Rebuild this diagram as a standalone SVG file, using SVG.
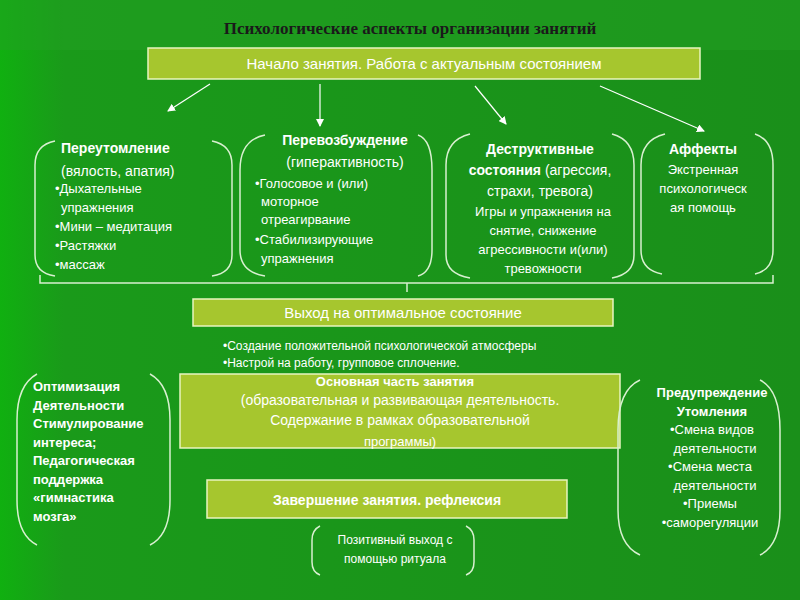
<svg xmlns="http://www.w3.org/2000/svg" width="800" height="600" viewBox="0 0 800 600">
<defs>
<linearGradient id="bg" x1="0" y1="0" x2="1" y2="0">
<stop offset="0" stop-color="#10b010"/><stop offset="0.08" stop-color="#1a9a1a"/><stop offset="1" stop-color="#1a8f1a"/>
</linearGradient>
<marker id="ar" markerWidth="8" markerHeight="8" refX="7" refY="4" orient="auto" markerUnits="userSpaceOnUse"><path d="M0,0 L8,4 L0,8 z" fill="#fff"/></marker>
<style>
.box{fill:#a6c62e;stroke:#e8f5c0;stroke-width:1.5}
.br{fill:none;stroke:#d8f0d0;stroke-width:1.5}
.w{fill:#fff;font-family:"Liberation Sans",Arial,sans-serif}
.b{font-weight:bold}
.c{stroke:#fff;stroke-width:1.2;fill:none}
</style>
</defs>
<rect width="800" height="600" fill="url(#bg)"/>
<rect x="0" y="0" width="800" height="50" fill="#22a022" opacity="0.5"/>
<text x="410" y="34" text-anchor="middle" font-family="'Liberation Serif',serif" font-weight="bold" font-size="17" fill="#1a1a1a">Психологические аспекты организации занятий</text>
<g id="start"><rect class="box" x="148" y="48" width="552" height="31"/>
<text class="w" x="424" y="69" text-anchor="middle" font-size="15">Начало занятия. Работа с актуальным состоянием</text></g>
<g id="connectors">
<line class="c" x1="210" y1="84" x2="168" y2="111" marker-end="url(#ar)"/>
<line class="c" x1="320" y1="84" x2="320" y2="126" marker-end="url(#ar)"/>
<line class="c" x1="475" y1="86" x2="506" y2="124" marker-end="url(#ar)"/>
<line class="c" x1="600" y1="86" x2="704" y2="131" marker-end="url(#ar)"/>
<path class="br" d="M40,275 V283 H773 V275 M407,283 V292"/>
</g>
<g id="n1">
<path class="br" d="M55,141 Q35,145 35,165 V255 Q35,273 55,276 M212,141 Q232,145 232,165 V255 Q232,273 212,276"/>
<text class="w b" x="61" y="153" font-size="14">Переутомление</text>
<text class="w" x="61" y="176" font-size="14">(вялость, апатия)</text>
<g font-size="13"><text class="w" x="55" y="193">•Дыхательные</text><text class="w" x="61" y="212">упражнения</text>
<text class="w" x="55" y="231">•Мини – медитация</text><text class="w" x="55" y="250">•Растяжки</text><text class="w" x="55" y="269">•массаж</text></g>
</g>
<g id="n2">
<path class="br" d="M265,135 Q240,140 240,170 V250 Q240,272 265,276 M418,135 Q432,140 432,170 V250 Q432,272 418,276"/>
<text class="w b" x="345" y="145" text-anchor="middle" font-size="14">Перевозбуждение</text>
<text class="w" x="345" y="167" text-anchor="middle" font-size="14">(гиперактивность)</text>
<g font-size="13"><text class="w" x="255" y="188">•Голосовое и (или)</text><text class="w" x="261" y="206">моторное</text>
<text class="w" x="261" y="224">отреагирвание</text><text class="w" x="255" y="244">•Стабилизирующие</text><text class="w" x="261" y="263">упражнения</text></g>
</g>
<g id="n3">
<path class="br" d="M470,134 Q446,140 446,165 V255 Q446,274 470,278 M612,134 Q634,140 634,165 V255 Q634,274 612,278"/>
<text class="w b" x="540" y="154" text-anchor="middle" font-size="14">Деструктивные</text>
<text class="w" x="540" y="175" text-anchor="middle" font-size="14"><tspan font-weight="bold">состояния</tspan> (агрессия,</text>
<text class="w" x="540" y="196" text-anchor="middle" font-size="14">страхи, тревога)</text>
<g font-size="13"><text class="w" x="543" y="216" text-anchor="middle">Игры и упражнения на</text>
<text class="w" x="543" y="235" text-anchor="middle">снятие, снижение</text>
<text class="w" x="543" y="254" text-anchor="middle">агрессивности и(или)</text>
<text class="w" x="543" y="273" text-anchor="middle">тревожности</text></g>
</g>
<g id="n4">
<path class="br" d="M665,134 Q641,140 641,165 V250 Q641,270 662,274 M755,134 Q773,140 773,165 V250 Q773,270 755,274"/>
<text class="w b" x="703" y="154" text-anchor="middle" font-size="14">Аффекты</text>
<g font-size="13"><text class="w" x="703" y="174" text-anchor="middle">Экстренная</text>
<text class="w" x="703" y="193" text-anchor="middle">психологическ</text>
<text class="w" x="703" y="212" text-anchor="middle">ая помощь</text></g>
</g>
<g id="exit"><rect class="box" x="193" y="299" width="420" height="27"/>
<text class="w" x="403" y="318" text-anchor="middle" font-size="15">Выход на оптимальное состояние</text></g>
<g id="exit-notes" font-size="12">
<text class="w" x="223" y="350">•Создание положительной психологической атмосферы</text>
<text class="w" x="223" y="367">•Настрой на работу, групповое сплочение.</text>
</g>
<g id="main"><rect class="box" x="180" y="374" width="440" height="74"/>
<text class="w b" x="395" y="386" text-anchor="middle" font-size="13">Основная часть занятия</text>
<text class="w" x="400" y="405" text-anchor="middle" font-size="14">(образовательная и развивающая деятельность.</text>
<text class="w" x="400" y="425" text-anchor="middle" font-size="14">Содержание в рамках образовательной</text>
<text class="w" x="400" y="446" text-anchor="middle" font-size="13">программы)</text></g>
<g id="left">
<path class="br" d="M37,374 Q17,385 17,420 V500 Q17,535 37,545 M150,374 Q170,385 170,420 V500 Q170,535 150,545"/>
<g font-size="13"><text class="w b" x="33" y="391">Оптимизация</text><text class="w b" x="33" y="410">Деятельности</text>
<text class="w b" x="33" y="428">Стимулирование</text><text class="w b" x="33" y="447">интереса;</text>
<text class="w b" x="33" y="465">Педагогическая</text><text class="w b" x="33" y="484">поддержка</text>
<text class="w b" x="33" y="502">«гимнастика</text><text class="w b" x="33" y="521">мозга»</text></g>
</g>
<g id="right">
<path class="br" d="M640,380 Q618,390 618,430 V510 Q618,545 640,555 M760,380 Q780,390 780,430 V510 Q780,545 760,555"/>
<g font-size="13"><text class="w b" x="712" y="397" text-anchor="middle">Предупреждение</text>
<text class="w b" x="712" y="416" text-anchor="middle">Утомления</text>
<text class="w" x="712" y="434" text-anchor="middle">•Смена видов</text>
<text class="w" x="715" y="453" text-anchor="middle">деятельности</text>
<text class="w" x="710" y="471" text-anchor="middle">•Смена места</text>
<text class="w" x="715" y="490" text-anchor="middle">деятельности</text>
<text class="w" x="710" y="508" text-anchor="middle">•Приемы</text>
<text class="w" x="710" y="527" text-anchor="middle">•саморегуляции</text></g>
</g>
<g id="end"><rect class="box" x="207" y="480" width="360" height="38"/>
<text class="w b" x="387" y="505" text-anchor="middle" font-size="14">Завершение занятия. рефлексия</text></g>
<g id="ritual">
<path class="br" d="M320,526 Q312,530 312,540 V562 Q312,572 320,575 M466,526 Q474,530 474,540 V562 Q474,572 466,575"/>
<text class="w" x="395" y="544" text-anchor="middle" font-size="12">Позитивный выход с</text>
<text class="w" x="395" y="563" text-anchor="middle" font-size="12">помощью ритуала</text>
</g>
</svg>
